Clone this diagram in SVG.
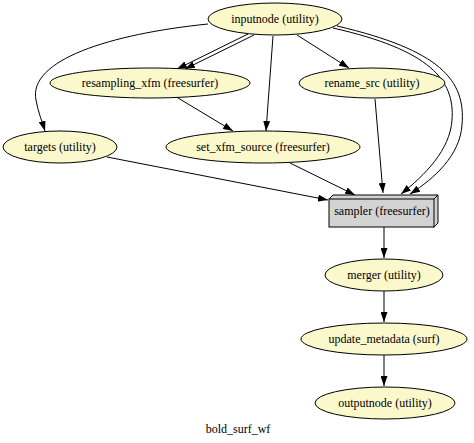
<svg xmlns="http://www.w3.org/2000/svg" width="474" height="443" viewBox="0 0 474 443">
<style>
.n ellipse{fill:#fbf8cc;stroke:#000;stroke-width:1}
text{font-family:"Liberation Serif","Times New Roman",serif;font-size:12px;text-anchor:middle;fill:#000}
.e path{fill:none;stroke:#000;stroke-width:1;marker-end:url(#a)}
</style>
<defs>
<marker id="a" viewBox="0 0 10 7" refX="10" refY="3.5" markerWidth="10" markerHeight="7" markerUnits="userSpaceOnUse" orient="auto">
<path d="M0,0 L10,3.5 L0,7 Z" fill="#000"/>
</marker>
</defs>
<rect width="474" height="443" fill="#fff"/>
<g class="e">
<path d="M208,24 C110,34 28,60 36,100 C38,112 42,121 45,131"/>
<path d="M248,34 L177,69"/>
<path d="M254,35 L185,69"/>
<path d="M273,36 L266,131"/>
<path d="M297,35 L349,68"/>
<path d="M333,28 C430,50 455,80 452,120 C450,150 425,175 401,194"/>
<path d="M337,26 C440,50 466,80 462,125 C460,155 435,178 410,194"/>
<path d="M178,98 L233,131"/>
<path d="M375,99 L383,193"/>
<path d="M290,163 L355,195"/>
<path d="M107,157 L328,200"/>
<path d="M384,227 L384,258"/>
<path d="M384,291 L384,322"/>
<path d="M384,355 L384,386"/>
</g>
<g id="inputnode" class="n"><ellipse cx="275" cy="19" rx="67" ry="16"/><text x="275" y="23">inputnode (utility)</text></g>
<g id="resampling_xfm" class="n"><ellipse cx="150" cy="83" rx="100" ry="15"/><text x="150" y="87">resampling_xfm (freesurfer)</text></g>
<g id="rename_src" class="n"><ellipse cx="372" cy="83" rx="73" ry="15"/><text x="372" y="87">rename_src (utility)</text></g>
<g id="targets" class="n"><ellipse cx="60" cy="147" rx="57" ry="16"/><text x="60" y="151">targets (utility)</text></g>
<g id="set_xfm_source" class="n"><ellipse cx="263" cy="147" rx="97" ry="16"/><text x="263" y="151">set_xfm_source (freesurfer)</text></g>
<g id="sampler">
<path d="M329,199 L333,195 L438,195 L438,223 L434,227 Z" fill="#d3d3d3" stroke="#000"/>
<rect x="329" y="199" width="105" height="28" fill="#d3d3d3" stroke="#000"/>
<path d="M434,199 L438,195" stroke="#000" fill="none"/>
<text x="382" y="215">sampler (freesurfer)</text>
</g>
<g id="merger" class="n"><ellipse cx="384" cy="275" rx="59" ry="16"/><text x="384" y="279">merger (utility)</text></g>
<g id="update_metadata" class="n"><ellipse cx="384" cy="339" rx="83" ry="16"/><text x="384" y="343">update_metadata (surf)</text></g>
<g id="outputnode" class="n"><ellipse cx="385" cy="403" rx="70" ry="16"/><text x="385" y="407">outputnode (utility)</text></g>
<text x="238" y="433">bold_surf_wf</text>
</svg>
